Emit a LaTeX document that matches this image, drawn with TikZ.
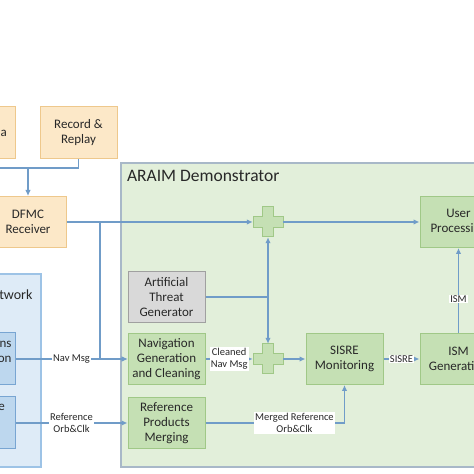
\documentclass[tikz,border=0pt]{standalone}
\usepackage{fontspec}
\setmainfont{Carlito}
\usepackage{tikz}
\usetikzlibrary{arrows.meta,positioning,calc}
\definecolor{LineBlue}{RGB}{112,156,200}
\definecolor{TextGray}{RGB}{40,40,40}
\definecolor{SoftOrange}{RGB}{252,232,200}
\definecolor{EdgeOrange}{RGB}{238,200,140}
\definecolor{SoftGreen}{RGB}{226,239,218}
\definecolor{BoxGreen}{RGB}{197,224,180}
\definecolor{EdgeGreen}{RGB}{160,200,135}
\definecolor{SoftGray}{RGB}{217,217,217}
\definecolor{EdgeGray}{RGB}{160,160,160}
\definecolor{SoftBlue}{RGB}{222,235,247}
\definecolor{EdgeBlue}{RGB}{157,195,230}
\definecolor{BoxBlue}{RGB}{189,215,238}
\definecolor{InEdgeBlue}{RGB}{120,165,210}
\definecolor{FrameGray}{RGB}{168,184,200}
\tikzset{
  srcbox/.style={draw=EdgeOrange,fill=SoftOrange,line width=1pt,text=TextGray,
    minimum width=77pt,minimum height=52pt,align=center,
    font=\fontsize{13}{15}\selectfont},
  procbox/.style={draw=EdgeGreen,fill=BoxGreen,line width=1pt,text=TextGray,
    minimum width=77pt,minimum height=51pt,align=center,
    font=\fontsize{13}{15}\selectfont},
  threatbox/.style={procbox,draw=EdgeGray,fill=SoftGray},
  inbox/.style={draw=InEdgeBlue,fill=BoxBlue,line width=1pt,
    minimum width=77pt,minimum height=52pt},
  boxtext/.style={align=right,anchor=east,text=TextGray,
    font=\fontsize{13}{15}\selectfont},
  sumnode/.style={minimum size=30pt,inner sep=0pt},
  plussign/.pic={\draw[draw=EdgeGreen,fill=BoxGreen,line width=1pt]
    (-5.5,15) -- (5.5,15) -- (5.5,5.5) -- (15,5.5) -- (15,-5.5) -- (5.5,-5.5)
    -- (5.5,-15) -- (-5.5,-15) -- (-5.5,-5.5) -- (-15,-5.5) -- (-15,5.5)
    -- (-5.5,5.5) -- cycle;},
  link/.style={LineBlue,line width=1.2pt},
  arr/.style={link,-{Latex[length=6pt,width=5.5pt]}},
  lbl/.style={fill=white,inner sep=1pt,align=center,text=TextGray,
    font=\fontsize{10.5}{12.5}\selectfont}
}

\begin{document}
\begin{tikzpicture}[x=1pt,y=1pt]
  \useasboundingbox[fill=white] (0,0) rectangle (474,474);
  % frames
  \draw[draw=FrameGray,fill=SoftGreen,line width=1.5pt] (121,7) rectangle (510,311);
  \node[anchor=west,text=TextGray,font=\fontsize{17.5}{20}\selectfont] (araim) at (123.5,298) {ARAIM Demonstrator};
  \draw[draw=EdgeBlue,fill=SoftBlue,line width=1.5pt] (-70,7) rectangle (41,200);
  \node[anchor=east,text=TextGray,font=\fontsize{14}{16}\selectfont] (network) at (36,179) {Network};

  % sources
  \node[srcbox] (src) at (-23.5,341) {};
  \node[boxtext] (srctxt) at (10.5,341) {a};
  \node[srcbox] (rec) at (78.5,341) {Record \&\\Replay};
  \node[srcbox,minimum width=76pt,minimum height=51pt] (dfmc) at (28,252) {DFMC\\Receiver};

  % network boxes
  \node[inbox] (stations) at (-23.5,115) {};
  \node[boxtext] (stxt) at (15,122.5) {ns\\on};
  \node[inbox] (refsrc) at (-23.5,51) {};
  \node[boxtext] (rtxt) at (8.5,67) {e};

  % demonstrator
  \node[threatbox] (atg) at (166.5,177) {Artificial\\Threat\\Generator};
  \node[procbox] (navgen) at (166.5,115) {Navigation\\Generation\\and Cleaning};
  \node[procbox] (refmerge) at (166.5,51) {Reference\\Products\\Merging};
  \node[procbox] (sisre) at (344.5,115) {SISRE\\Monitoring};
  \node[procbox] (ismgen) at (458.5,115) {ISM\\Generation};
  \node[procbox] (user) at (458.5,252) {User\\Processing};
  \pic at (268,252) {plussign};
  \node[sumnode] (sum1) at (268,252) {};
  \pic at (268,115) {plussign};
  \node[sumnode] (sum2) at (268,115) {};

  % connections
  \coordinate (join) at (28,306);
  \coordinate (tap) at (100,252);
  \coordinate (thr) at (268,177);
  \draw[link] (src.south) |- (join);
  \draw[link] (rec.south) |- (join);
  \draw[arr] (join) -- (dfmc.north);
  \draw[arr] (dfmc.east) -- (sum1.west);
  \draw[arr] (sum1.east) -- (user.west);
  \draw[arr] (tap) |- (navgen.west);
  \draw[arr] (stations.east) -- node[lbl] {Nav Msg} (navgen.west);
  \draw[arr] (refsrc.east) -- node[lbl] {Reference\\Orb\&Clk} (refmerge.west);
  \draw[link] (atg.east) -- (thr);
  \draw[arr] (thr) -- (sum1.south);
  \draw[arr] (thr) -- (sum2.north);
  \draw[arr] (navgen.east) -- node[lbl] {Cleaned\\Nav Msg} (sum2.west);
  \draw[arr] (sum2.east) -- (sisre.west);
  \draw[arr] (sisre.east) -- node[lbl] {SISRE} (ismgen.west);
  \draw[arr] (ismgen.north) -- node[lbl,pos=0.4] {ISM} (user.south);
  \draw[arr] (refmerge.east) -| node[lbl,pos=0.32] {Merged Reference\\Orb\&Clk} (sisre.south);
\end{tikzpicture}
\end{document}
